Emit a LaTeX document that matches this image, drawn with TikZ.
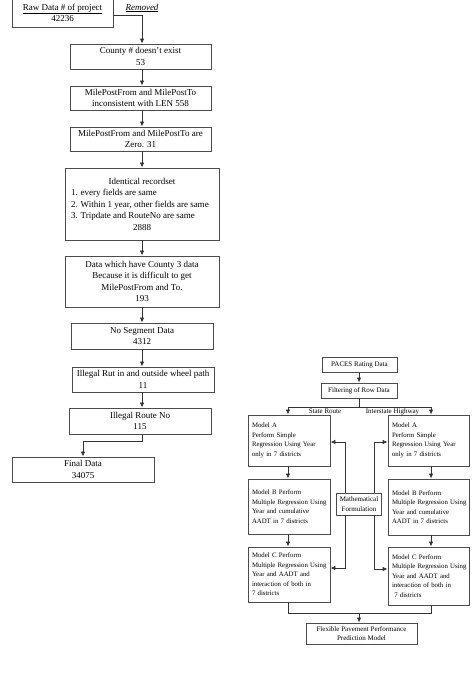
\documentclass[tikz,border=0pt]{standalone}
\usepackage{fontspec}
\setmainfont{Liberation Serif}
\usetikzlibrary{arrows.meta}
\newcommand\oneline[1]{\mbox{#1}}
\begin{document}
\begin{tikzpicture}[x=1pt,y=-1pt,
  box/.style={draw=black!70,line width=0.9pt,rectangle,inner sep=0pt,align=center,font=\fontsize{9}{11.5}\selectfont},
  mbox/.style={draw=black!70,line width=0.9pt,rectangle,inner sep=0pt,align=left,font=\fontsize{6.8}{9.5}\selectfont},
  sbox/.style={draw=black!70,line width=0.9pt,rectangle,inner sep=0pt,align=center,font=\fontsize{7}{9.5}\selectfont},
  arr/.style={draw=black!80,line width=0.8pt,-{Latex[length=5pt,width=4.5pt]}},
  ln/.style={draw=black!80,line width=0.8pt},
  lbl/.style={inner sep=0pt,font=\fontsize{7}{9}\selectfont}]
\useasboundingbox (0,0) rectangle (474,679);
\fill[white] (0,0) rectangle (474,679);
% ---------- left flow chart ----------
\coordinate (ax) at (142,0);
\node[box,minimum width=101pt,minimum height=28pt] (raw) at (62.5,13) {\underline{Raw Data \# of project}\\42236};
\node[box,minimum width=141pt,minimum height=25pt] (county) at (140.5,56.5) {County \# doesn't exist\\53};
\node[box,minimum width=141pt,minimum height=24pt] (mp1) at (140.5,98) {MilePostFrom and MilePostTo\\inconsistent with LEN 558};
\node[box,minimum width=141pt,minimum height=24pt] (mp2) at (140.5,139) {MilePostFrom and MilePostTo are\\Zero. 31};
\node[box,minimum width=154pt,minimum height=72pt] (ident) at (142,204) {Identical recordset\\
  \makebox[142pt][l]{1. every fields are same}\\
  \makebox[142pt][l]{2. Within 1 year, other fields are same}\\
  \makebox[142pt][l]{3. Tripdate and RouteNo are same}\\
  2888};
\node[box,minimum width=154pt,minimum height=51pt] (cty3) at (142,281.5) {Data which have County 3 data\\Because it is difficult to get\\MilePostFrom and To.\\193};
\node[box,minimum width=142pt,minimum height=26pt] (noseg) at (142,336) {No Segment Data\\4312};
\node[box,minimum width=142pt,minimum height=25pt] (rut) at (143,379.5) {Illegal Rut in and outside wheel path\\11};
\node[box,minimum width=142pt,minimum height=26pt] (route) at (140,421) {Illegal Route No\\115};
\node[box,minimum width=142pt,minimum height=25pt] (final) at (83,469.5) {Final Data\\34075};
\node[inner sep=0pt,font=\fontsize{9}{11}\selectfont\itshape] (rem) at (142,8) {\underline{Removed}};
\draw[arr] ([yshift=-2pt]raw.east) -| (county.north -| ax);
\draw[arr] (county.south -| ax) -- (mp1.north -| ax);
\draw[arr] (mp1.south -| ax) -- (mp2.north -| ax);
\draw[arr] (mp2.south -| ax) -- (ident.north -| ax);
\draw[arr] (ident.south -| ax) -- (cty3.north -| ax);
\draw[arr] (cty3.south -| ax) -- (noseg.north -| ax);
\draw[arr] (noseg.south -| ax) -- (rut.north -| ax);
\draw[arr] (rut.south -| ax) -- (route.north -| ax);
\draw[arr] (route.south -| ax) -- ++(0,7) -| (final.north);
% ---------- right flow chart ----------
\coordinate (axL) at (288,0);
\coordinate (axR) at (431,0);
\coordinate (mxL) at (345,0);
\coordinate (mxR) at (374,0);
\node[sbox,minimum width=75pt,minimum height=15pt] (paces) at (359.5,364.5) {PACES Rating Data};
\node[sbox,minimum width=76pt,minimum height=15pt] (filt) at (359,390.5) {Filtering of Row Data};
\node[mbox,minimum width=82pt,minimum height=51pt,text width=74pt] (mAL) at (289,440.5) {\oneline{Model A}\\\oneline{Perform Simple}\\\oneline{Regression Using Year}\\\oneline{only in 7 districts}};
\node[mbox,minimum width=81pt,minimum height=51pt,text width=73pt] (mAR) at (428.5,440.5) {\oneline{Model A}\\\oneline{Perform Simple}\\\oneline{Regression Using Year}\\\oneline{only in 7 districts}};
\node[mbox,minimum width=82pt,minimum height=55pt,text width=74pt] (mBL) at (289,506.5) {\oneline{Model B Perform}\\\oneline{Multiple Regression Using}\\\oneline{Year and cumulative}\\\oneline{AADT in 7 districts}};
\node[mbox,minimum width=81pt,minimum height=56pt,text width=73pt] (mBR) at (428.5,507) {\oneline{Model B Perform}\\\oneline{Multiple Regression Using}\\\oneline{Year and cumulative}\\\oneline{AADT in 7 districts}};
\node[mbox,minimum width=82pt,minimum height=55pt,text width=74pt] (mCL) at (289,574.5) {\oneline{Model C Perform}\\\oneline{Multiple Regression Using}\\\oneline{Year and AADT and}\\\oneline{interaction of both in}\\\oneline{7 districts}};
\node[mbox,minimum width=81pt,minimum height=58pt,text width=73pt] (mCR) at (428.5,576) {\oneline{Model C Perform}\\\oneline{Multiple Regression Using}\\\oneline{Year and AADT and}\\\oneline{interaction of both in}\\\oneline{\ 7 districts}};
\node[sbox,minimum width=45pt,minimum height=22pt] (math) at (359,504) {Mathematical\\Formulation};
\node[sbox,minimum width=111pt,minimum height=21pt] (flex) at (361.5,633.5) {Flexible Pavement Performance\\Prediction Model};
\coordinate (sp) at (359,407);
\coordinate (bm) at (359,613);
\draw[arr] (paces) -- (filt.north |- paces.south) -- (filt.north);
\draw[ln] (filt.south -| sp) -- (sp);
\draw[arr] (sp) -| (mAL.north -| axL);
\draw[arr] (sp) -| (mAR.north -| axR);
\node[lbl] (sr) at (325,411.5) {State Route};
\node[lbl] (ih) at (392.5,411.5) {Interstate Highway};
\draw[arr] (mAL.south -| axL) -- (mBL.north -| axL);
\draw[arr] (mBL.south -| axL) -- (mCL.north -| axL);
\draw[arr] (mAR.south -| axR) -- (mBR.north -| axR);
\draw[arr] (mBR.south -| axR) -- (mCR.north -| axR);
\draw[arr] (math.north -| mxL) |- ([yshift=-1.5pt]mAL.east);
\draw[arr] (math.south -| mxL) |- ([yshift=6.5pt]mCL.east);
\draw[arr] (math.north -| mxR) |- ([yshift=-1.5pt]mAR.west);
\draw[arr] (math.south -| mxR) |- ([yshift=7pt]mCR.west);
\draw[ln] (mCL.south -| axL) -- (axL |- bm) -- (axR |- bm) -- (mCR.south -| axR);
\draw[arr] (bm) -- (flex.north -| bm);
\end{tikzpicture}
\end{document}
